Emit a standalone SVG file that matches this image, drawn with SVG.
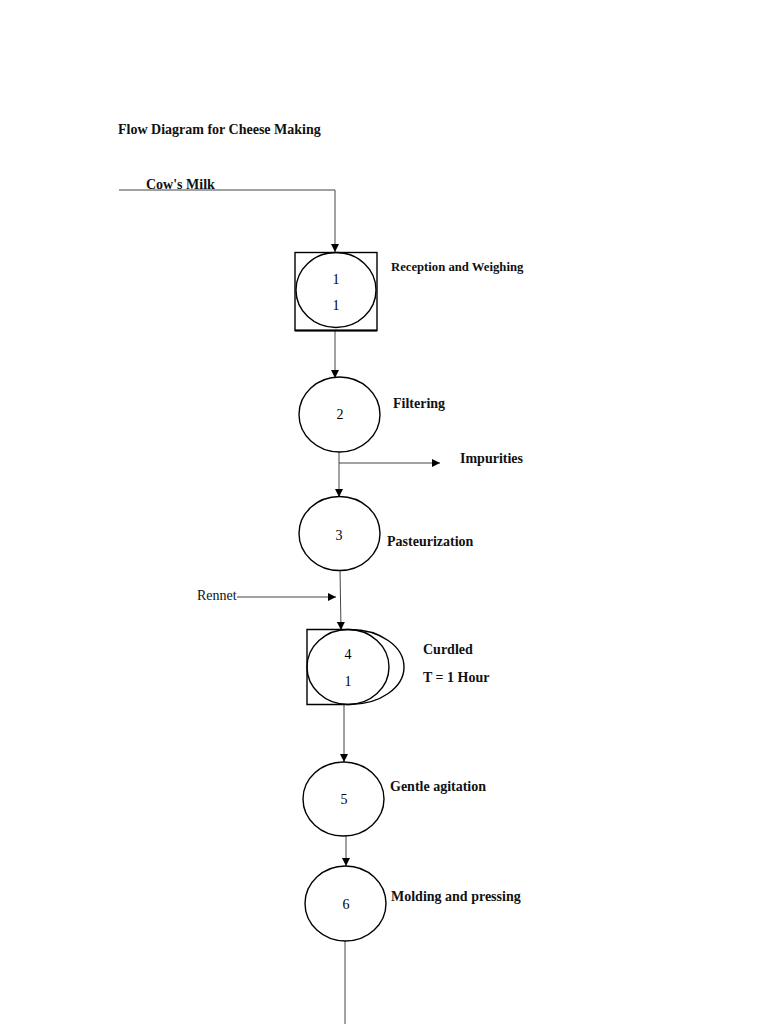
<svg xmlns="http://www.w3.org/2000/svg" width="768" height="1024" viewBox="0 0 768 1024">
<style>
.shape{fill:none;stroke:#000;stroke-width:1.4}
.line{fill:none;stroke:#444;stroke-width:1}
.num{font-family:"Liberation Serif",serif;font-size:14px;text-anchor:middle;fill:#000}
.lbl{font-family:"Liberation Serif",serif;font-size:14px;font-weight:bold;fill:#111}
.sm{font-size:12.7px}
.reg{font-family:"Liberation Serif",serif;font-size:14px;fill:#111}
</style>
<defs>
<marker id="arr" viewBox="0 0 10 10" refX="10" refY="5" markerWidth="8" markerHeight="8" markerUnits="userSpaceOnUse" orient="auto">
<path d="M0,0 L10,5 L0,10 Z" fill="#000"/>
</marker>
</defs>
<rect width="768" height="1024" fill="#fff"/>
<text class="lbl" x="118" y="134">Flow Diagram for Cheese Making</text>
<text class="lbl" x="146" y="189">Cow's Milk</text>
<text class="reg" x="197" y="600">Rennet</text>
<g id="connectors">
<polyline class="line" points="119,190 335,190 335,252" marker-end="url(#arr)"/>
<line class="line" x1="335" y1="331" x2="335" y2="378" marker-end="url(#arr)"/>
<line class="line" x1="339" y1="452" x2="339" y2="497" marker-end="url(#arr)"/>
<line class="line" x1="339" y1="463" x2="440" y2="463" marker-end="url(#arr)"/>
<line class="line" x1="340" y1="570" x2="341" y2="630" marker-end="url(#arr)"/>
<line class="line" x1="237" y1="597" x2="336" y2="597" marker-end="url(#arr)"/>
<line class="line" x1="344" y1="705" x2="344" y2="762" marker-end="url(#arr)"/>
<line class="line" x1="346" y1="836" x2="346" y2="866" marker-end="url(#arr)"/>
<line class="line" x1="345" y1="941" x2="345" y2="1024"/>
</g>
<g id="node1">
<rect class="shape" x="295" y="252.5" width="82" height="78"/>
<line x1="295" y1="330.5" x2="377" y2="330.5" stroke="#000" stroke-width="2"/>
<ellipse class="shape" cx="336" cy="290" rx="40" ry="37.5"/>
<text class="num" x="336" y="284">1</text>
<text class="num" x="336" y="310">1</text>
<text class="lbl sm" x="391" y="271">Reception and Weighing</text>
</g>
<g id="node2">
<ellipse class="shape" cx="339.5" cy="414.5" rx="40.5" ry="37.5"/>
<text class="num" x="340" y="419">2</text>
<text class="lbl" x="393" y="408">Filtering</text>
</g>
<g id="impurities">
<text class="lbl" x="460" y="463">Impurities</text>
</g>
<g id="node3">
<ellipse class="shape" cx="339.5" cy="533.5" rx="40.5" ry="37"/>
<text class="num" x="339" y="540">3</text>
<text class="lbl" x="387" y="546">Pasteurization</text>
</g>
<g id="node4">
<path class="shape" d="M307,629.5 H350 A54,37.5 0 0 1 350,704.5 H307 Z"/>
<ellipse class="shape" cx="348" cy="667" rx="41" ry="37.5"/>
<text class="num" x="348" y="659">4</text>
<text class="num" x="348" y="686">1</text>
<text class="lbl" x="423" y="654">Curdled</text>
<text class="lbl" x="423" y="682">T = 1 Hour</text>
</g>
<g id="node5">
<ellipse class="shape" cx="343.5" cy="799" rx="40.5" ry="37"/>
<text class="num" x="344" y="804">5</text>
<text class="lbl" x="390" y="791">Gentle agitation</text>
</g>
<g id="node6">
<ellipse class="shape" cx="345.5" cy="903.5" rx="40.5" ry="37.5"/>
<text class="num" x="346" y="909">6</text>
<text class="lbl" x="391" y="901">Molding and pressing</text>
</g>
</svg>
